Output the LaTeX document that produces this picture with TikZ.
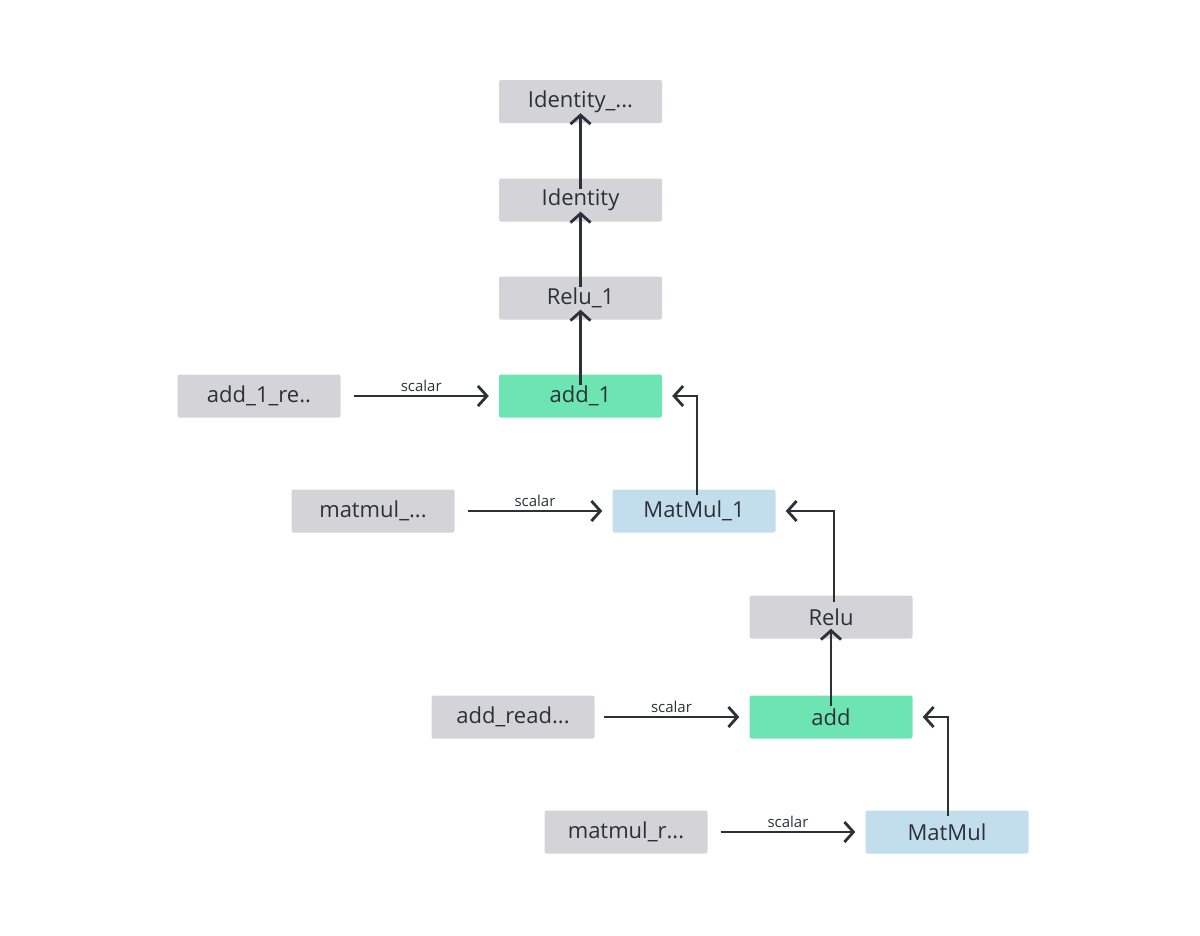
\documentclass[tikz,border=0pt]{standalone}
\usepackage{fontspec}
\setmainfont{Open Sans}
\usetikzlibrary{arrows.meta}
\definecolor{gbox}{HTML}{D4D4D8}
\definecolor{grn}{HTML}{6CE5B3}
\definecolor{blu}{HTML}{C2DEED}
\definecolor{ink}{HTML}{2E3038}
\begin{document}
\begin{tikzpicture}[x=1pt,y=-1pt,
  box/.style={rectangle,rounded corners=2pt,minimum width=163pt,minimum height=43pt,inner sep=0,font=\fontsize{22}{24}\selectfont,text=ink},
  g/.style={box,fill=gbox}, gr/.style={box,fill=grn}, bl/.style={box,fill=blu},
  ar/.style={draw=ink,line width=2.8pt,-{Straight Barb[length=9pt,width=20pt,line width=2.8pt]}},
  lab/.style={font=\fontsize{15}{17}\selectfont,text=ink,above,inner sep=3pt}]
\useasboundingbox (0,0) rectangle (1200,935);
\node[g] (id2) at (580.5,101.5) {Identity\_...};
\node[g] (id) at (580.5,200) {Identity};
\node[g] (r1) at (580.5,298) {Relu\_1};
\node[gr] (a1) at (580.5,396) {add\_1};
\node[g] (a1r) at (259,396) {add\_1\_re..};
\node[bl] (m1) at (694,511) {MatMul\_1};
\node[g] (m1r) at (373,511) {matmul\_...};
\node[g] (r) at (831,617) {Relu};
\node[gr] (a) at (831,717) {add};
\node[g] (ar) at (513,717) {add\_read...};
\node[bl] (m) at (947,832) {MatMul};
\node[g] (mr) at (626,832) {matmul\_r...};

\draw[ar] ([yshift=-11pt]id.north) -- ([yshift=10pt]id2.south);
\draw[ar] ([yshift=-11pt]r1.north) -- ([yshift=10pt]id.south);
\draw[ar] ([yshift=-11pt]a1.north) -- ([yshift=10pt]r1.south);
\draw[ar] ([yshift=-11pt]a.north) -- ([yshift=10pt]r.south);
\draw[ar] ([xshift=13pt]a1r.east) -- node[lab]{scalar} ([xshift=-10pt]a1.west);
\draw[ar] ([xshift=13pt]m1r.east) -- node[lab]{scalar} ([xshift=-10pt]m1.west);
\draw[ar] ([xshift=9pt]ar.east) -- node[lab]{scalar} ([xshift=-10pt]a.west);
\draw[ar] ([xshift=13pt]mr.east) -- node[lab]{scalar} ([xshift=-10pt]m.west);
\draw[ar] ([xshift=3pt,yshift=-6pt]m1.north) |- ([xshift=10pt]a1.east);
\draw[ar] ([xshift=3pt,yshift=-7pt]r.north) |- ([xshift=10pt]m1.east);
\draw[ar] ([xshift=1pt,yshift=-6pt]m.north) |- ([xshift=10pt]a.east);
\end{tikzpicture}
\end{document}
